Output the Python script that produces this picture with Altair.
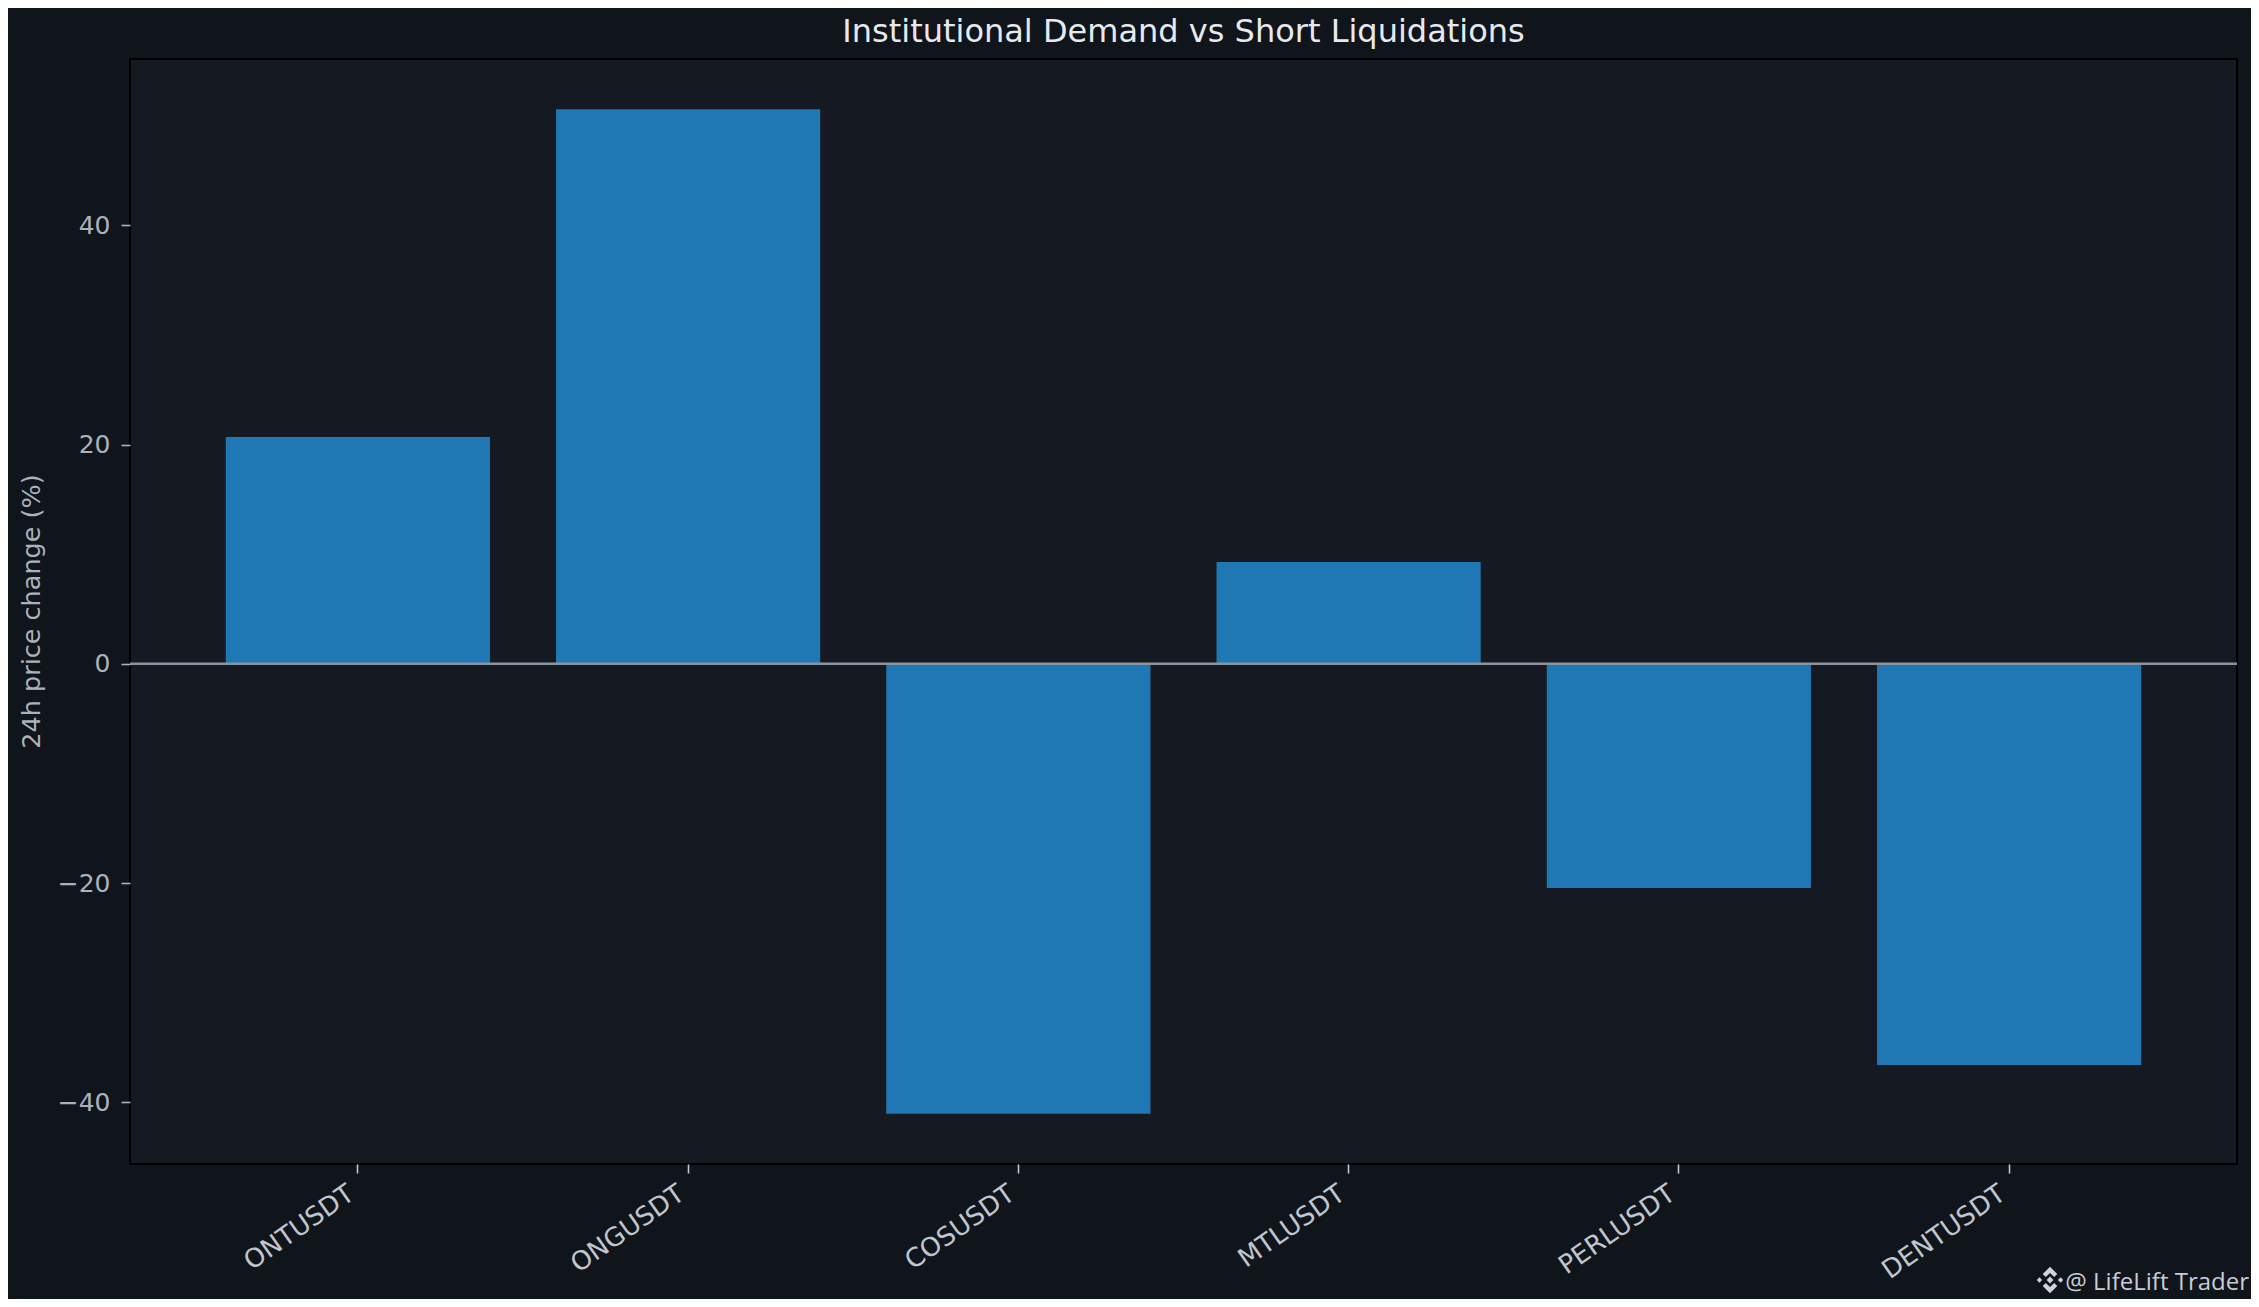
import altair as alt
import pandas as pd

SYMBOLS = ["ONTUSDT", "ONGUSDT", "COSUSDT", "MTLUSDT", "PERLUSDT", "DENTUSDT"]
CHANGES = [20.7, 50.6, -41.05, 9.3, -20.45, -36.6]
Y_TICKS = [-40, -20, 0, 20, 40]
Y_DOMAIN = [-45.63, 55.18]
TITLE = "Institutional Demand vs Short Liquidations"
Y_LABEL = "24h price change (%)"
WATERMARK = "@ LifeLift Trader"

BG = "#10141b"
PANEL = "#151a22"
BAR = "#1f77b4"
TICK_TXT = "#aab2bc"

df = pd.DataFrame({"symbol": SYMBOLS, "change": CHANGES})

bars = alt.Chart(df).mark_bar(color=BAR).encode(
    x=alt.X(
        "symbol:N",
        sort=SYMBOLS,
        scale=alt.Scale(paddingInner=0.2, paddingOuter=0.29),
        axis=alt.Axis(
            title=None,
            labelAngle=-35,
            labelAlign="right",
            labelBaseline="top",
            labelPadding=7,
            labelOffset=-14,
            labelFontSize=26,
            labelColor="#c0c6cd",
            tickSize=9,
            tickWidth=1.6,
            tickColor="#c0c6cd",
            domain=False,
            grid=False,
        ),
    ),
    y=alt.Y(
        "change:Q",
        scale=alt.Scale(domain=Y_DOMAIN, nice=False, zero=False),
        axis=alt.Axis(
            title=Y_LABEL,
            values=Y_TICKS,
            labelFontSize=25,
            labelColor=TICK_TXT,
            labelPadding=11,
            tickSize=9,
            tickWidth=1.6,
            tickColor=TICK_TXT,
            domain=False,
            grid=False,
            titleFontSize=25.5,
            titleFontWeight="normal",
            titleColor=TICK_TXT,
            titleX=-91,
            titleY=552,
            titleAngle=270,
            titleAlign="center",
            titleBaseline="alphabetic",
        ),
    ),
)

zero = alt.Chart(pd.DataFrame({"z": [0]})).mark_rule(
    color="#8b949e", strokeWidth=2.5
).encode(y=alt.datum(0))

mark_df = pd.DataFrame({"t": [WATERMARK]})
watermark = alt.Chart(mark_df).mark_text(
    align="right",
    baseline="alphabetic",
    font="Open Sans",
    fontSize=24,
    color="#c8cdd3",
).encode(text="t:N", x=alt.value(2119), y=alt.value(1231))

LOGO = (
    "M0,-1L0.55,-0.45L0.32,-0.22L0,-0.52L-0.32,-0.22L-0.55,-0.45Z"
    "M0,1L0.55,0.45L0.32,0.22L0,0.52L-0.32,0.22L-0.55,0.45Z"
    "M0,-0.26L0.26,0L0,0.26L-0.26,0Z"
    "M0.8,-0.2L1,0L0.8,0.2L0.6,0Z"
    "M-0.8,-0.2L-0.6,0L-0.8,0.2L-1,0Z"
)
logo = alt.Chart(mark_df).mark_point(
    shape=LOGO, filled=True, size=700, color="#d0d4d9", opacity=1, strokeWidth=0
).encode(x=alt.value(1920), y=alt.value(1221))

chart = (
    alt.layer(bars, zero, watermark, logo)
    .properties(
        width=2107,
        height=1105,
        background=BG,
        padding={"left": 122, "top": 51, "right": 14, "bottom": 135},
        autosize=alt.AutoSizeParams(type="none"),
        title=alt.TitleParams(
            TITLE,
            fontSize=32,
            fontWeight="normal",
            color="#e6e9ee",
            anchor="middle",
            frame="group",
            baseline="alphabetic",
            offset=16,
            dy=31,
        ),
    )
    .configure(font="DejaVu Sans")
    .configure_view(fill=PANEL, stroke="#000000", strokeWidth=2)
)

chart.save("out.html", embed_options={"renderer": "svg", "actions": False})
